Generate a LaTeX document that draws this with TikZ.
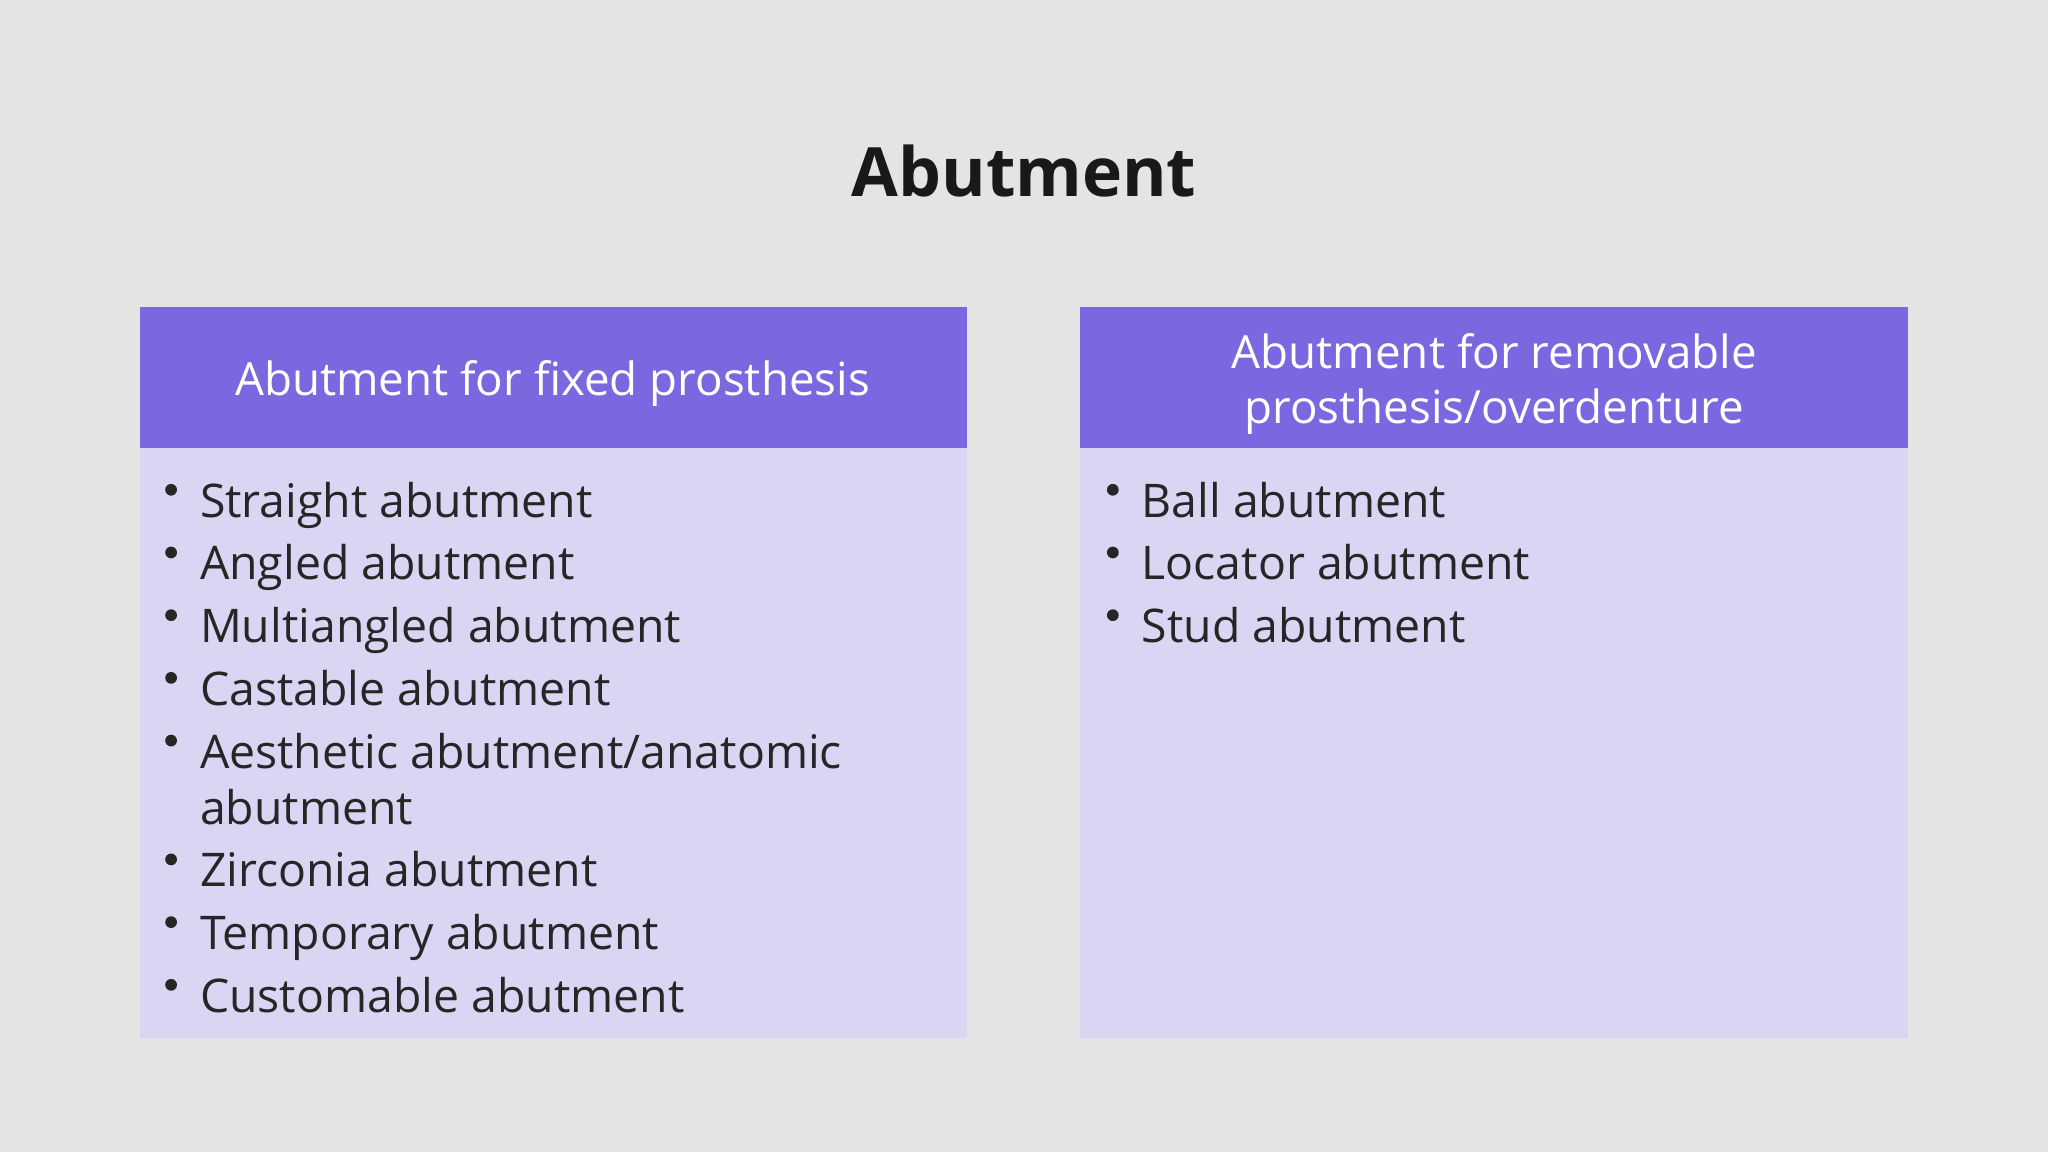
\documentclass[tikz,border=0pt]{standalone}
\usepackage{fontspec}
\setmainfont{Open Sans}
\definecolor{hdr}{HTML}{7B68E0}
\definecolor{bodyc}{HTML}{D9D5F3}
\definecolor{bg}{HTML}{E4E4E4}
\begin{document}
\begin{tikzpicture}[x=1pt,y=-1pt,
  item/.style={anchor=base west,font=\fontsize{35.5}{40}\selectfont,text=black!85,inner sep=0pt},
  bul/.style={circle,fill=black!85,inner sep=0pt,minimum size=9pt},
  htext/.style={font=\fontsize{35}{42}\selectfont,text=white,align=center}]
\useasboundingbox (0,0) rectangle (1568,882);
\fill[bg] (0,0) rectangle (1568,882);
\node[font=\bfseries\fontsize{52}{60}\selectfont,text=black!90] (title) at (784,131) {Abutment};
\fill[bodyc] (107,343) rectangle (740,795);
\fill[hdr] (107,235) rectangle (740,343);
\fill[bodyc] (827,343) rectangle (1461,795);
\fill[hdr] (827,235) rectangle (1461,343);
\node[htext] (h1) at (423,294) {Abutment for fixed prosthesis};
\node[htext] (h2) at (1144,294) {Abutment for removable\\prosthesis/overdenture};
\foreach \t/\y [count=\i] in {Straight abutment/382,Angled abutment/430,Multiangled abutment/478,Castable abutment/526,{Aesthetic abutment/anatomic}/574,Zirconia abutment/665,Temporary abutment/713,Customable abutment/761}{
  \node[bul] (b\i) at (131,\y-7) {};
  \node[item] (l\i) at (153,\y+14) {\t};
}
\node[item] (l5b) at (153,617+14) {abutment};
\foreach \t/\y [count=\i] in {Ball abutment/382,Locator abutment/430,Stud abutment/478}{
  \node[bul] (rb\i) at (852,\y-7) {};
  \node[item] (r\i) at (874,\y+14) {\t};
}
\end{tikzpicture}
\end{document}
